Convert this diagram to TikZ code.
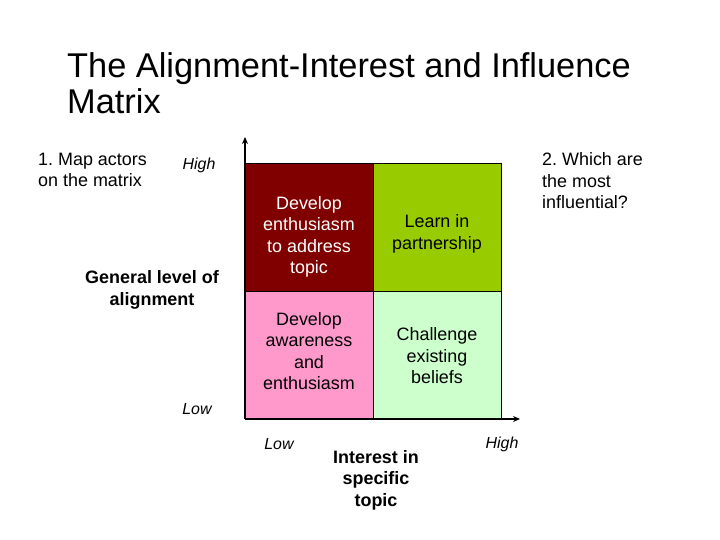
\documentclass[tikz,border=0pt]{standalone}
\usepackage{xcolor}
\usepackage{fontspec}
\setmainfont{Liberation Sans}
\usepackage{tikz}
\usetikzlibrary{arrows.meta, positioning}
\definecolor{quadmaroon}{HTML}{800000}
\definecolor{quadlime}{HTML}{99CC00}
\definecolor{quadpink}{HTML}{FF99CC}
\definecolor{quadmint}{HTML}{CCFFCC}
\frenchspacing

\begin{document}
\begin{tikzpicture}[x=1bp, y=-1bp, node distance=0bp,
    quad/.style={rectangle, draw=black, line width=0.8bp, minimum width=128bp, minimum height=128bp, inner sep=0pt, outer sep=0pt},
    quadtext/.style={inner sep=0pt, align=center, font=\fontsize{18}{21.6}\selectfont},
    axis/.style={-{Stealth[length=7bp, width=6bp]}, line width=1.6bp},
    lbl/.style={inner sep=0pt, font=\fontsize{18}{21.6}\selectfont},
    bold/.style={inner sep=0pt, align=center, font=\fontsize{18}{21.6}\selectfont\bfseries},
    tick/.style={inner sep=0pt, font=\fontsize{16}{19}\selectfont\itshape}]

    \useasboundingbox (0,0) rectangle (720,540);

    \node[lbl, anchor=west, align=left, font=\fontsize{34.5}{36}\selectfont] (title) at (67,83) {The Alignment-Interest and Influence\\Matrix};

    % the four quadrants
    \node[quad, fill=quadmaroon] (enthuse) at (309,227) {};
    \node[quad, fill=quadlime, right=of enthuse] (learn) {};
    \node[quad, fill=quadpink, below=of enthuse] (aware) {};
    \node[quad, fill=quadmint, below=of learn] (challenge) {};

    \node[quadtext, text=white] (enthusetext) at ([yshift=-10bp]enthuse.center) {Develop\\enthusiasm\\to address\\topic};
    \node[quadtext] (learntext) at ([yshift=-7bp]learn.center) {Learn in\\partnership};
    \node[quadtext] (awaretext) at ([yshift=4bp]aware.center) {Develop\\awareness\\and\\enthusiasm};
    \node[quadtext] (challengetext) at ([yshift=-1bp]challenge.center) {Challenge\\existing\\beliefs};

    \coordinate[above=26bp of enthuse.north west] (ytop);
    \coordinate[right=19bp of challenge.south east] (xend);
    \draw[axis] (aware.south west) -- (ytop);
    \draw[axis] (aware.south west) -- (xend);

    \node[tick] (yhigh) at (199,165) {High};
    \node[tick] (ylow) at (197,409) {Low};
    \node[tick] (xlow) at (279,444) {Low};
    \node[tick] (xhigh) at (502,444) {High};

    \node[bold] (ylabel) at (152,290) {General level of\\alignment};
    \node[bold] (xlabel) at (376,480) {Interest in\\specific\\topic};

    \node[lbl, anchor=west, align=left] (mapstep) at (38,170) {1. Map actors\\on the matrix};
    \node[lbl, anchor=west, align=left] (inflstep) at (542,181) {2. Which are\\the most\\influential?};

\end{tikzpicture}
\end{document}
